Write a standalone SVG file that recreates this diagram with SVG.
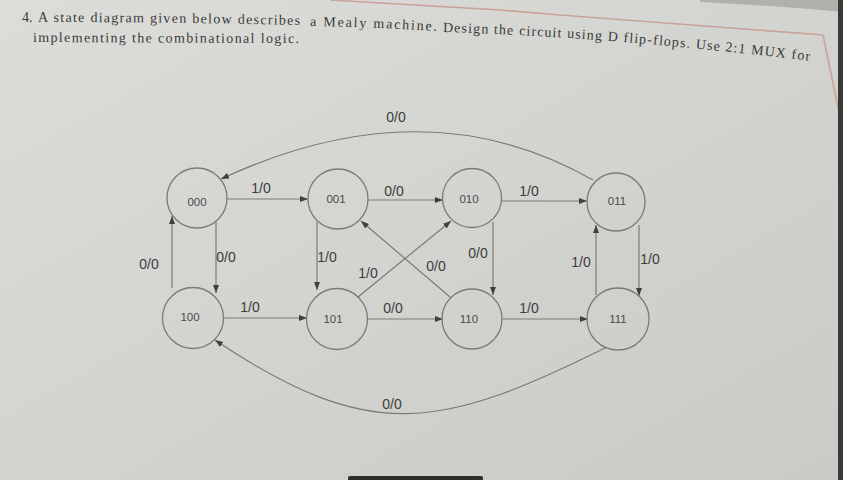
<svg xmlns="http://www.w3.org/2000/svg" width="843" height="480" viewBox="0 0 843 480">
<defs>
<linearGradient id="bg" x1="0" y1="0" x2="1" y2="1">
<stop offset="0" stop-color="#dcddd9"/>
<stop offset="0.5" stop-color="#d3d4d0"/>
<stop offset="1" stop-color="#cacbc7"/>
</linearGradient>
<marker id="ah" markerUnits="userSpaceOnUse" markerWidth="9" markerHeight="7" refX="8" refY="3" orient="auto">
<path d="M0,0 L8,3 L0,6 Z" fill="#3f3f3f"/>
</marker>
<path id="hla" d="M38,22 Q170,22 300,25"/>
<path id="hlb" d="M310,26 Q372,27 437,31"/>
<path id="hlc" d="M443,32 Q600,36 812,61"/>
<path id="hl2" d="M33,42 L300,43"/>
</defs>
<style>
.st circle{fill:none;stroke:#7a7a7a;stroke-width:1.3}
.st text{font-family:"Liberation Sans",Arial,sans-serif;font-size:11.5px;fill:#4a4a4a;text-anchor:middle}
.cn path,.cn line{fill:none;stroke:#7a7a7a;stroke-width:1.2;marker-end:url(#ah)}
.lb{font-family:"Liberation Sans",Arial,sans-serif;font-size:14px;fill:#3c3c3c;text-anchor:middle}
.hd{font-family:"Liberation Serif","Times New Roman",serif;font-size:14px;fill:#3a3a3a}
</style>
<rect width="843" height="480" fill="url(#bg)"/>
<path d="M330,0 L500,10 L560,15 L823,35 L840,117" fill="none" stroke="#c9a39a" stroke-width="1.6"/>
<path d="M700,0 L843,0 L843,12 Q780,6 700,2 Z" fill="#9a9a92" opacity="0.6"/>
<rect x="838" y="0" width="5" height="480" fill="#3a3a38"/>
<rect x="348" y="476" width="135" height="6" rx="2" fill="#2e2e2c"/>

<g id="header">
<text class="hd" x="22" y="22" font-size="9" fill="#777">4.</text>
<text class="hd"><textPath href="#hla" textLength="262" lengthAdjust="spacing">A state diagram given below describes</textPath></text>
<text class="hd"><textPath href="#hlb" textLength="127" lengthAdjust="spacing">a Mealy machine.</textPath></text>
<text class="hd"><textPath href="#hlc" textLength="368" lengthAdjust="spacing">Design the circuit using D flip-flops. Use 2:1 MUX for</textPath></text>
<text class="hd"><textPath href="#hl2" textLength="266" lengthAdjust="spacing">implementing the combinational logic.</textPath></text>
</g>

<g id="connectors" class="cn">
<line x1="227" y1="199" x2="308" y2="199"/>
<line x1="216" y1="222" x2="216" y2="293"/>
<line x1="172" y1="288" x2="172" y2="216"/>
<line x1="223" y1="318" x2="307" y2="318"/>
<line x1="317" y1="222" x2="317" y2="290"/>
<line x1="368" y1="200" x2="443" y2="200"/>
<line x1="358" y1="297" x2="451" y2="221"/>
<line x1="450" y1="297" x2="361" y2="221"/>
<line x1="493" y1="222" x2="493" y2="295"/>
<line x1="367" y1="319" x2="443" y2="319"/>
<line x1="502" y1="201" x2="587" y2="201"/>
<line x1="502" y1="319" x2="588" y2="319"/>
<line x1="596" y1="295" x2="596" y2="225"/>
<line x1="639" y1="225" x2="639" y2="296"/>
<path d="M593,180 Q425,84 221,179"/>
<path d="M607,347 C440,430 370,444 215,340"/>
</g>

<g id="labels">
<text class="lb" x="261" y="193">1/0</text>
<text class="lb" x="226" y="262">0/0</text>
<text class="lb" x="149" y="269">0/0</text>
<text class="lb" x="250" y="312">1/0</text>
<text class="lb" x="327" y="262">1/0</text>
<text class="lb" x="394" y="196">0/0</text>
<text class="lb" x="368" y="278">1/0</text>
<text class="lb" x="436" y="271">0/0</text>
<text class="lb" x="478" y="258">0/0</text>
<text class="lb" x="393" y="313">0/0</text>
<text class="lb" x="529" y="196">1/0</text>
<text class="lb" x="529" y="313">1/0</text>
<text class="lb" x="581" y="267">1/0</text>
<text class="lb" x="650" y="264">1/0</text>
<text class="lb" x="396" y="122">0/0</text>
<text class="lb" x="392" y="409">0/0</text>
</g>

<g id="s000" class="st"><circle cx="197" cy="198" r="30"/><text x="197" y="206">000</text></g>
<g id="s001" class="st"><circle cx="338" cy="199" r="30"/><text x="336" y="203">001</text></g>
<g id="s010" class="st"><circle cx="472" cy="198" r="29.5"/><text x="469" y="203">010</text></g>
<g id="s011" class="st"><circle cx="616" cy="202" r="29"/><text x="617" y="205">011</text></g>
<g id="s100" class="st"><circle cx="193" cy="318" r="30.5"/><text x="190" y="321">100</text></g>
<g id="s101" class="st"><circle cx="337" cy="319" r="30.5"/><text x="333" y="323">101</text></g>
<g id="s110" class="st"><circle cx="472" cy="319" r="30"/><text x="469" y="323">110</text></g>
<g id="s111" class="st"><circle cx="618" cy="319" r="31"/><text x="618" y="323">111</text></g>
</svg>
